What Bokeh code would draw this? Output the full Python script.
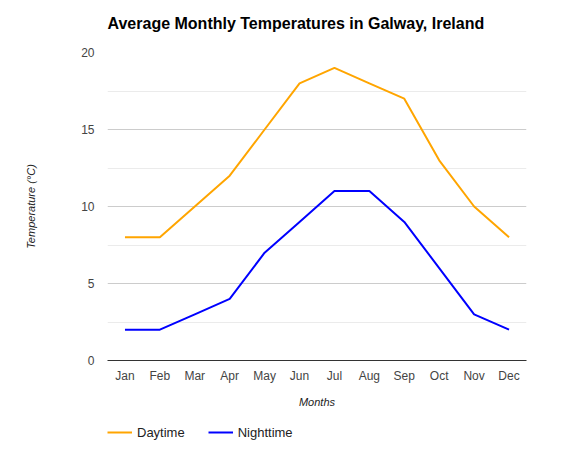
from bokeh.plotting import figure
from bokeh.layouts import column
from bokeh.models import Range1d, FixedTicker, Legend, LegendItem
from bokeh.embed import file_html
from bokeh.resources import INLINE

months = ["Jan", "Feb", "Mar", "Apr", "May", "Jun",
          "Jul", "Aug", "Sep", "Oct", "Nov", "Dec"]
daytime = [8, 8, 10, 12, 15, 18, 19, 18, 17, 13, 10, 8]
nighttime = [2, 2, 3, 4, 7, 9, 11, 11, 9, 6, 3, 2]
y_ticks = [0, 5, 10, 15, 20]
y_minor = [2.5, 7.5, 12.5, 17.5]

FONT = "Liberation Sans"
DAY_COLOR = "#FFA500"
NIGHT_COLOR = "#0000FF"

p = figure(width=570, height=410, x_range=months, y_range=Range1d(0, 20),
           output_backend="svg", toolbar_location=None,
           min_border_left=107, min_border_right=44,
           min_border_top=52, min_border_bottom=50)
p.outline_line_color = None
p.background_fill_color = "white"
p.border_fill_color = "white"

# title
p.title.text = "Average Monthly Temperatures in Galway, Ireland"
p.title.text_font = FONT
p.title.text_font_size = "16px"
p.title.text_font_style = "bold"
p.title.text_color = "#000000"
p.title.align = "left"
p.title.standoff = 0
p.title.padding = dict(top=0, right=0, bottom=21, left=0)

# temperature lines
p.line(months, daytime, line_color=DAY_COLOR, line_width=2)
p.line(months, nighttime, line_color=NIGHT_COLOR, line_width=2)

# y axis
p.yaxis.ticker = FixedTicker(ticks=y_ticks, minor_ticks=y_minor)
p.yaxis.axis_line_color = None
p.yaxis.major_tick_line_color = None
p.yaxis.minor_tick_line_color = None
p.yaxis.major_tick_out = 0
p.yaxis.minor_tick_out = 0
p.yaxis.major_label_standoff = 13
p.yaxis.major_label_text_font = FONT
p.yaxis.major_label_text_font_size = "12px"
p.yaxis.major_label_text_color = "#444444"
p.yaxis.axis_label = "Temperature (°C)"
p.yaxis.axis_label_text_font = FONT
p.yaxis.axis_label_text_font_size = "11px"
p.yaxis.axis_label_text_font_style = "italic"
p.yaxis.axis_label_text_color = "#222222"
p.yaxis.axis_label_standoff = 41

# x axis
p.xaxis.axis_line_color = "#333333"
p.xaxis.axis_line_width = 1
p.xaxis.major_tick_line_color = None
p.xaxis.minor_tick_line_color = None
p.xaxis.major_tick_out = 0
p.xaxis.minor_tick_out = 0
p.xaxis.major_label_standoff = 8
p.xaxis.major_label_text_font = FONT
p.xaxis.major_label_text_font_size = "12px"
p.xaxis.major_label_text_color = "#444444"
p.xaxis.axis_label = "Months"
p.xaxis.axis_label_text_font = FONT
p.xaxis.axis_label_text_font_size = "11px"
p.xaxis.axis_label_text_font_style = "italic"
p.xaxis.axis_label_text_color = "#222222"
p.xaxis.axis_label_standoff = 10

# grid
p.xgrid.grid_line_color = None
p.ygrid.grid_line_color = "#cccccc"
p.ygrid.minor_grid_line_color = "#ebebeb"

# legend strip under the chart (its series sit outside the visible range,
# so only the legend entries show)
leg = figure(width=570, height=46, x_range=months, y_range=Range1d(-1, 0),
             x_axis_type=None, y_axis_type=None,
             output_backend="svg", toolbar_location=None,
             min_border=0)
leg.outline_line_color = None
leg.xgrid.grid_line_color = None
leg.ygrid.grid_line_color = None
r_day = leg.line(months, daytime, line_color=DAY_COLOR, line_width=2)
r_night = leg.line(months, nighttime, line_color=NIGHT_COLOR, line_width=2)
legend = Legend(items=[LegendItem(label="Daytime", renderers=[r_day]),
                       LegendItem(label="Nighttime", renderers=[r_night])],
                orientation="horizontal", location=(0, 14),
                label_text_font=FONT, label_text_font_size="13px",
                label_text_color="#222222", glyph_width=25, label_standoff=5,
                spacing=23, padding=0, margin=0,
                border_line_color=None, background_fill_alpha=0)
leg.add_layout(legend, "center")

open("out.html", "w").write(file_html(column(p, leg), INLINE))
